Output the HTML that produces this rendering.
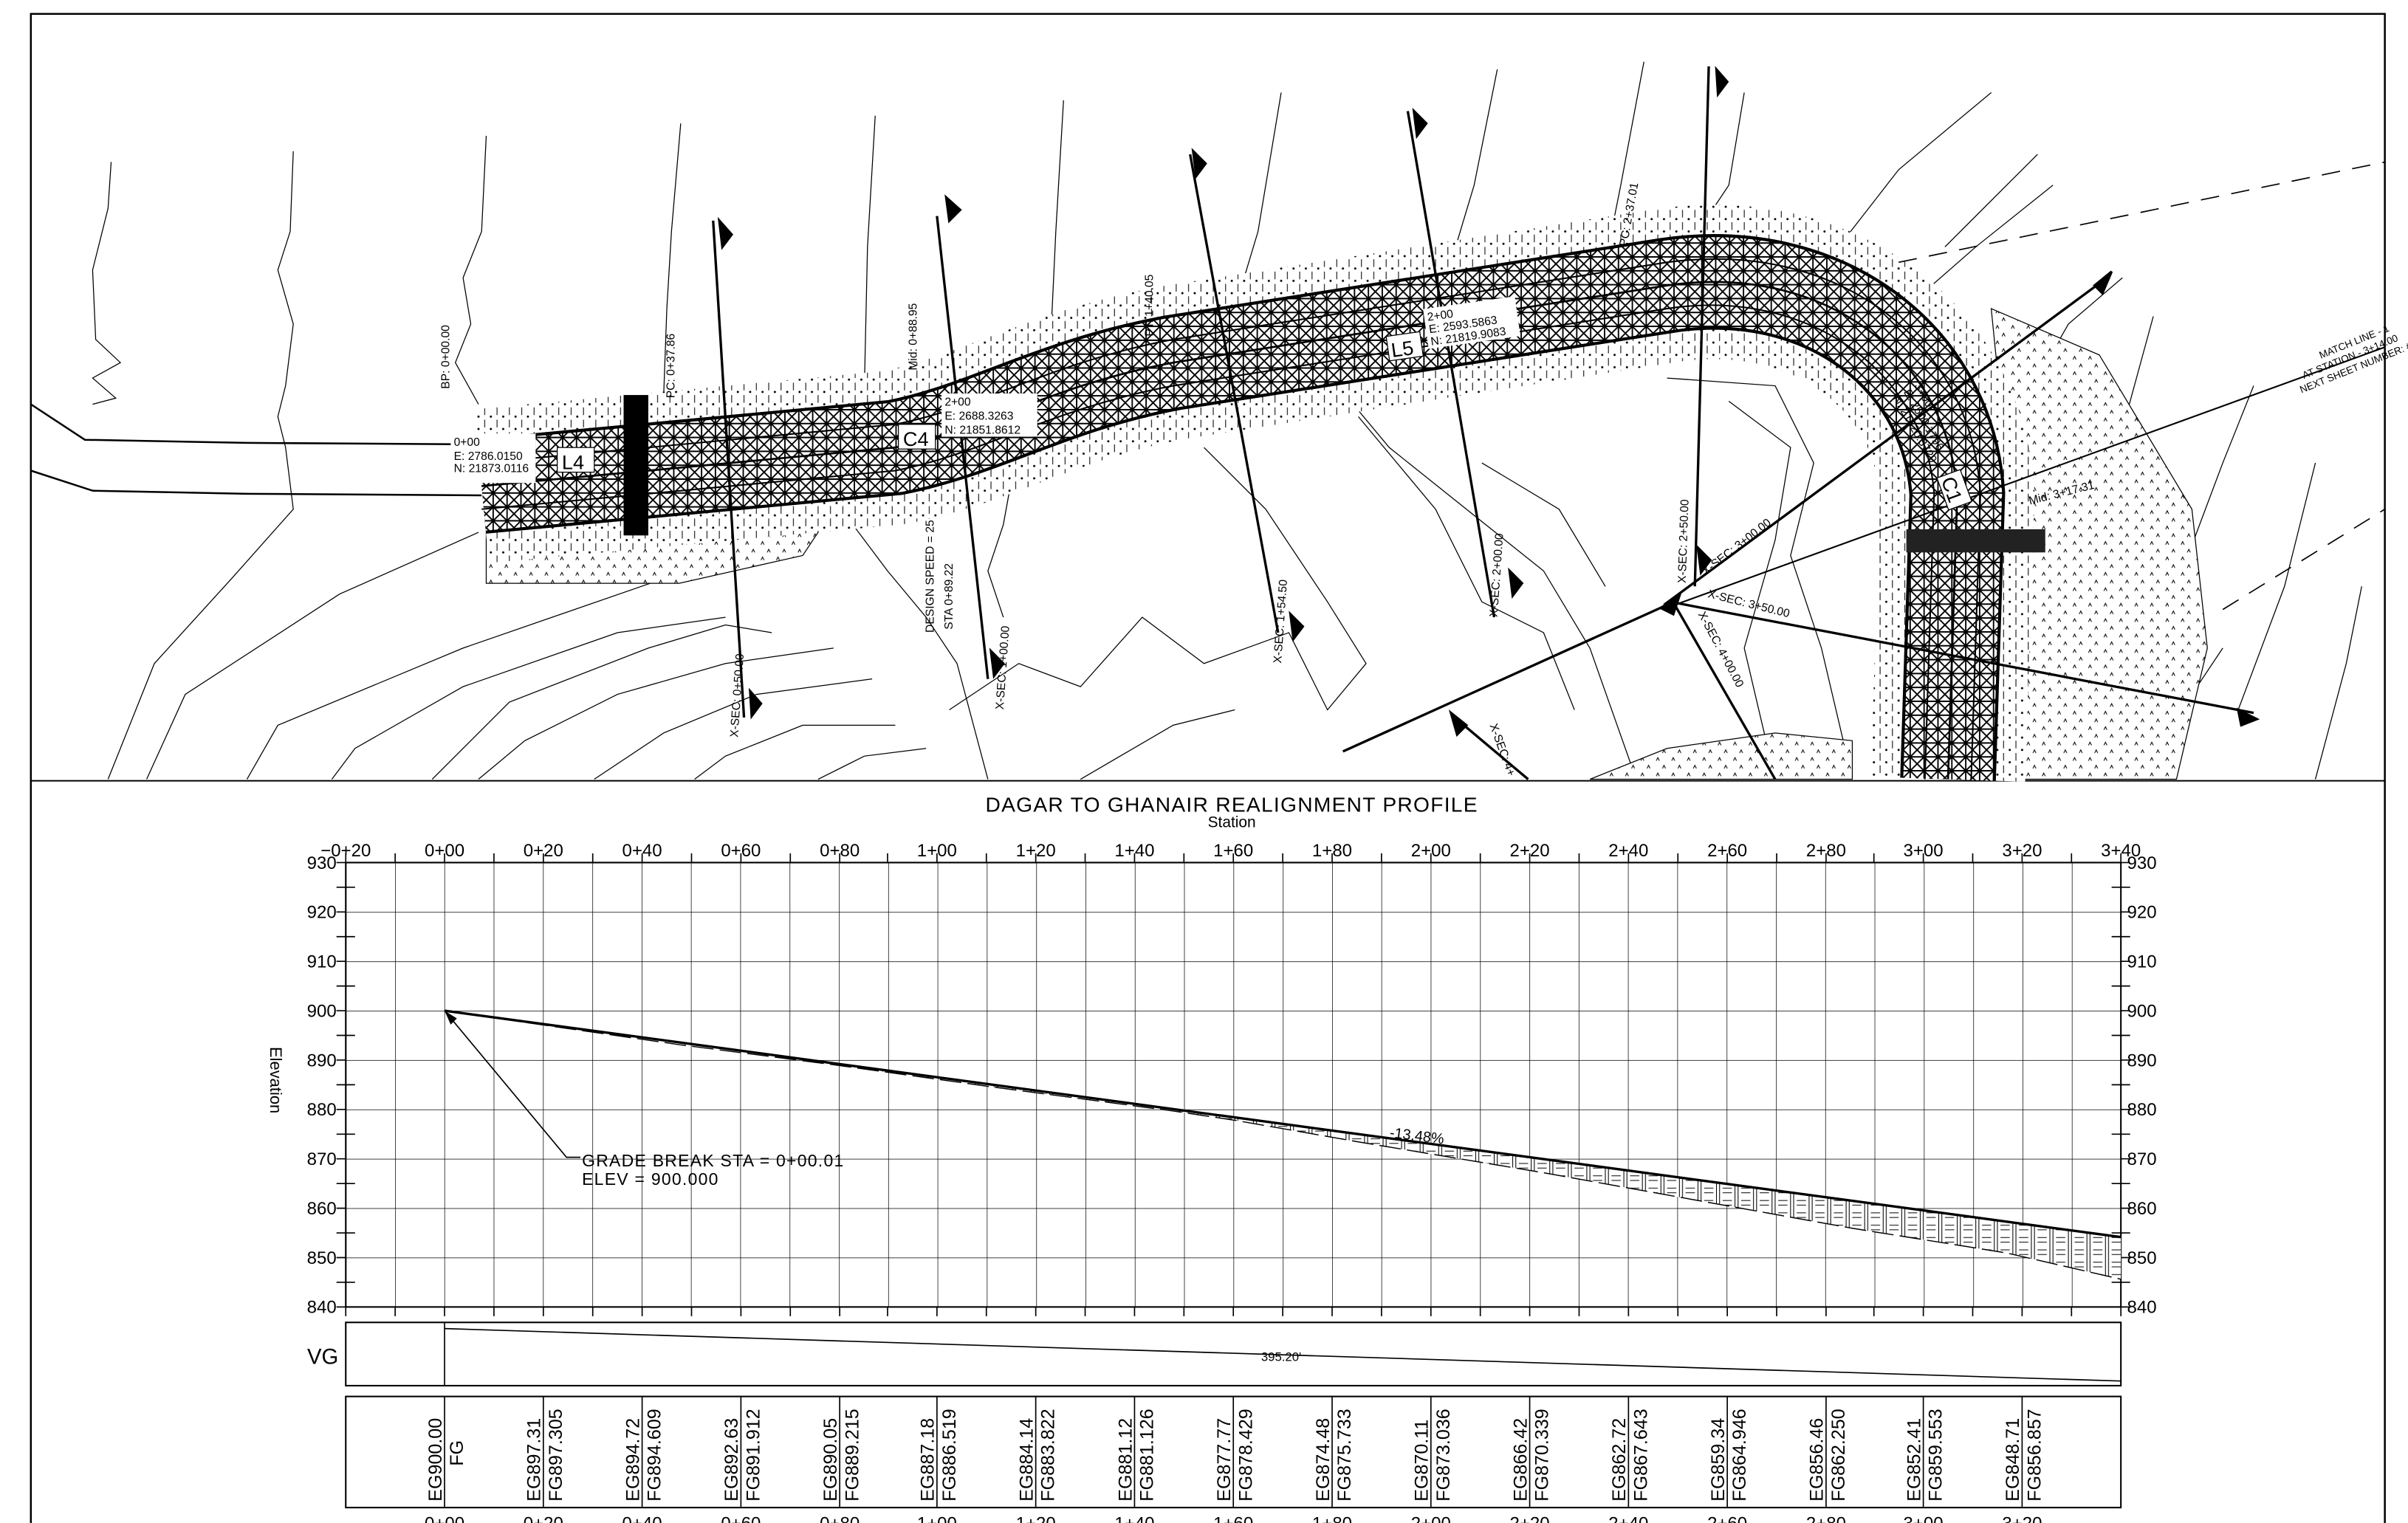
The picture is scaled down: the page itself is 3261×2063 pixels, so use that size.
<!DOCTYPE html>
<html><head><meta charset="utf-8"><style>
html,body{margin:0;padding:0;background:#fff;}
svg{display:block;}
text{font-family:"Liberation Sans",sans-serif;fill:#000;}
</style></head><body>
<svg width="3261" height="2063" viewBox="0 0 1560 987" preserveAspectRatio="none" xmlns="http://www.w3.org/2000/svg">
<defs>
<pattern id="rd" patternUnits="userSpaceOnUse" width="9" height="9">
<rect width="9" height="9" fill="#fff"/>
<path d="M0,9 L9,0 M0,0 L9,9 M4.5,0 L4.5,9 M0,4.5 L9,4.5" stroke="#000" stroke-width="0.9"/>
</pattern>
<pattern id="sl" patternUnits="userSpaceOnUse" width="8" height="8">
<rect width="8" height="8" fill="#fff"/>
<path d="M2,0 L2,5" stroke="#000" stroke-width="0.5"/>
<circle cx="6" cy="6" r="0.7" fill="#000"/>
</pattern>
<pattern id="dt" patternUnits="userSpaceOnUse" width="10" height="10">
<rect width="10" height="10" fill="#fff"/>
<path d="M3,3 l1,-2 l1,2" stroke="#000" stroke-width="0.5" fill="none"/>
<path d="M7,8 l1,-2 l1,2" stroke="#000" stroke-width="0.5" fill="none"/>
</pattern>
<pattern id="fh" patternUnits="userSpaceOnUse" width="12" height="8">
<rect width="12" height="8" fill="#fff"/>
<path d="M0,2 L6,2 M0,5 L6,5 M8,0 L8,8 M10,0 L10,8" stroke="#000" stroke-width="0.5"/>
</pattern>
<pattern id="grid" patternUnits="userSpaceOnUse" x="224" y="559" width="31.95" height="32">
<path d="M0,0 L0,32 M0,0 L31.95,0" stroke="#000" stroke-width="0.7" fill="none"/>
</pattern>
</defs>

<rect x="20" y="9" width="1525" height="990" fill="none" stroke="#000" stroke-width="1.2"/>
<line x1="20" y1="506" x2="1545" y2="506" stroke="#000" stroke-width="1"/>

<g fill="none" stroke="#000" stroke-width="0.6">
<polyline points="72,105 70,135 60,175 62,220 78,235 60,245 75,258 60,262"/>
<polyline points="190,98 188,150 180,175 190,210 185,250 180,270 185,290 190,330 150,375 100,430 70,505"/>
<polyline points="315,88 312,150 300,180 305,210 295,235 310,262"/>
<polyline points="441,80 435,150 432,200 430,255"/>
<polyline points="567,75 562,160 560,250"/>
<polyline points="689,65 684,150 680,235"/>
<polyline points="830,60 815,150 800,200 780,230"/>
<polyline points="970,45 955,120 940,170 900,200"/>
<polyline points="1065,40 1050,120 1045,145"/>
<polyline points="1130,60 1120,120 1100,150"/>
<polyline points="310,345 220,385 120,450 95,505"/>
<polyline points="430,375 300,420 180,470 160,505"/>
<polyline points="470,400 400,410 300,445 230,485 215,505"/>
<polyline points="500,410 470,405 420,420 330,455 280,505"/>
<polyline points="540,420 470,430 400,450 340,480 310,505"/>
<polyline points="565,440 490,450 430,475 385,505"/>
<polyline points="580,470 520,470 470,490 450,505"/>
<polyline points="600,485 560,490 530,505"/>
<polyline points="545,330 575,370 600,400 620,430 640,505"/>
<polyline points="660,285 650,340 640,370 650,400"/>
<polyline points="615,460 660,430 700,445 740,400 780,430 835,410 860,460 885,430 860,390 820,330 780,290"/>
<polyline points="700,505 760,470 800,460"/>
<polyline points="850,230 900,290 950,330 1000,370 1030,420 1060,505"/>
<polyline points="880,270 930,330 960,390 1000,410 1020,460"/>
<polyline points="960,300 1010,330 1040,380"/>
<polyline points="1080,245 1150,250 1175,300 1160,360 1180,420 1200,505"/>
<polyline points="1120,260 1160,290 1150,350 1130,420 1150,505"/>
<polyline points="1160,200 1230,110 1290,60"/>
<polyline points="1200,230 1280,160 1330,120"/>
<polyline points="1300,280 1340,210 1375,180"/>
<polyline points="1360,330 1380,260 1395,205"/>
<polyline points="1410,380 1440,300 1460,250"/>
<polyline points="1450,460 1480,380 1500,300"/>
<polyline points="1500,505 1520,430 1530,380"/>
<polyline points="1400,505 1420,450 1440,420"/>
<polyline points="1260,160 1300,120 1320,100"/>
</g>
<polyline points="20,262 55,285 160,287 312,288" fill="none" stroke="#000" stroke-width="1.2"/>
<polyline points="20,305 60,318 160,320 312,321" fill="none" stroke="#000" stroke-width="1.2"/>

<polygon points="315,345 540,330 520,360 440,378 315,378" fill="url(#dt)" stroke="#000" stroke-width="0.6"/>
<polygon points="1290,200 1360,230 1420,330 1430,420 1410,505 1310,505 1310,400 1300,300" fill="url(#dt)" stroke="#000" stroke-width="0.6"/>
<polygon points="1030,505 1080,485 1150,475 1200,480 1200,505" fill="url(#dt)" stroke="#000" stroke-width="0.6"/>

<path d="M312,315 L420,305 L580,290 C640,278 680,250 760,235 L1080,185 C1180,170 1262,230 1268,320 L1262,505" fill="none" stroke="url(#sl)" stroke-width="100"/>
<path d="M312,315 L420,305 L580,290 C640,278 680,250 760,235 L1080,185 C1180,170 1262,230 1268,320 L1262,505" fill="none" stroke="#000" stroke-width="62"/>
<path d="M312,315 L420,305 L580,290 C640,278 680,250 760,235 L1080,185 C1180,170 1262,230 1268,320 L1262,505" fill="none" stroke="url(#rd)" stroke-width="58"/>
<path d="M312,315 L420,305 L580,290 C640,278 680,250 760,235 L1080,185 C1180,170 1262,230 1268,320 L1262,505" fill="none" stroke="#000" stroke-width="1.3"/>
<path d="M312,300 L420,290 L580,275 C640,263 680,235 760,220 L1080,170 C1190,155 1277,220 1283,320 L1277,505" fill="none" stroke="#000" stroke-width="1"/>
<path d="M312,330 L420,320 L580,305 C640,293 680,265 760,250 L1080,200 C1170,186 1247,240 1253,320 L1247,505" fill="none" stroke="#000" stroke-width="1"/>

<rect x="404" y="256" width="16" height="91" fill="#000"/>
<rect x="1235" y="343" width="90" height="15" fill="#222"/>

<g stroke="#000" stroke-width="1.6" fill="#000">
<line x1="462" y1="143" x2="482" y2="465"/>
<polygon points="466,143 474,152 468,160"/><polygon points="486,448 493,456 487,464"/>
<line x1="607" y1="140" x2="640" y2="440"/>
<polygon points="613,128 622,136 615,143"/><polygon points="642,422 650,430 644,438"/>
<line x1="771" y1="100" x2="828" y2="410"/>
<polygon points="773,98 781,106 775,114"/><polygon points="836,398 844,406 838,414"/>
<line x1="912" y1="72" x2="968" y2="400"/>
<polygon points="916,72 924,80 918,88"/><polygon points="978,370 986,378 980,386"/>
<line x1="1107" y1="43" x2="1098" y2="380"/>
<polygon points="1112,45 1119,53 1113,61"/><polygon points="1100,355 1108,363 1102,371"/>
<line x1="1078" y1="392" x2="1365" y2="180"/>
<polygon points="1357,185 1368,176 1362,190"/>
<line x1="1082" y1="390" x2="1460" y2="462"/>
<polygon points="1450,460 1462,466 1452,470"/>
<line x1="1085" y1="392" x2="1150" y2="505"/>
<line x1="870" y1="487" x2="1080" y2="392"/>
<polygon points="940,462 950,470 944,476"/>
<line x1="946" y1="468" x2="990" y2="505"/>
<polygon points="1076,394 1088,386 1084,398"/>
</g>
<line x1="1085" y1="392" x2="1545" y2="225" stroke="#000" stroke-width="1"/>
<line x1="1230" y1="170" x2="1545" y2="105" stroke="#000" stroke-width="0.8" stroke-dasharray="12,8"/>
<line x1="1440" y1="395" x2="1545" y2="330" stroke="#000" stroke-width="0.8" stroke-dasharray="12,8"/>

<g font-size="7.5">
<text transform="translate(291,252) rotate(-90)">BP: 0+00.00</text>
<text transform="translate(437,258) rotate(-90)">PC: 0+37.86</text>
<text transform="translate(594,240) rotate(-90)">Mid: 0+88.95</text>
<text transform="translate(747,218) rotate(-90)">PT: 1+40.05</text>
<text transform="translate(1054,160) rotate(-80)">PC: 2+37.01</text>
<text transform="translate(605,410) rotate(-90)">DESIGN SPEED = 25</text>
<text transform="translate(617,408) rotate(-90)">STA 0+89.22</text>
<text transform="translate(478,478) rotate(-86)">X-SEC: 0+50.00</text>
<text transform="translate(650,460) rotate(-86)">X-SEC: 1+00.00</text>
<text transform="translate(830,430) rotate(-86)">X-SEC: 1+54.50</text>
<text transform="translate(970,400) rotate(-86)">X-SEC: 2+00.00</text>
<text transform="translate(1092,378) rotate(-88)">X-SEC: 2+50.00</text>
<text transform="translate(1105,373) rotate(-38)">X-SEC: 3+00.00</text>
<text transform="translate(1106,387) rotate(14)">X-SEC: 3+50.00</text>
<text transform="translate(1100,398) rotate(62)">X-SEC: 4+00.00</text>
<text transform="translate(965,470) rotate(70)">X-SEC: 4+</text>
<text transform="translate(1315,327) rotate(-14)">Mid: 3+17.31</text>
<rect x="292" y="281" width="55" height="32" fill="#fff"/>
<text x="294" y="289">0+00</text>
<text x="294" y="298">E: 2786.0150</text>
<text x="294" y="306">N: 21873.0116</text>
<rect x="610" y="255" width="62" height="28" fill="#fff"/>
<text x="612" y="263">2+00</text>
<text x="612" y="272">E: 2688.3263</text>
<text x="612" y="281">N: 21851.8612</text>
<g transform="translate(925,208) rotate(-8)"><rect x="-2" y="-8" width="60" height="26" fill="#fff"/>
<text x="0" y="0">2+00</text><text x="0" y="8">E: 2593.5863</text><text x="0" y="16">N: 21819.9083</text></g>
<g transform="translate(1240,250) rotate(60)"><text x="0" y="0">3+00</text><text x="0" y="8">E: 2500.1796</text><text x="0" y="16">N: 21820.3729</text></g>
<g transform="translate(1485,240) rotate(-22)" font-size="6.5"><text x="20" y="0">MATCH LINE - 1</text><text x="5" y="8">AT STATION - 3+14.00</text><text x="0" y="16">NEXT SHEET NUMBER: ###</text></g>
</g>
<g font-size="13">
<rect x="361" y="290" width="24" height="16" fill="#fff" stroke="#000" stroke-width="0.6"/><text x="364" y="304">L4</text>
<rect x="582" y="275" width="24" height="16" fill="#fff" stroke="#000" stroke-width="0.6"/><text x="585" y="289">C4</text>
<g transform="translate(898,218) rotate(-8)"><rect x="0" y="0" width="22" height="16" fill="#fff" stroke="#000" stroke-width="0.6"/><text x="2" y="14">L5</text></g>
<g transform="translate(1268,305) rotate(70)"><rect x="0" y="-2" width="22" height="16" fill="#fff" stroke="#000" stroke-width="0.6"/><text x="2" y="12">C1</text></g>
</g>

<text x="798" y="526" font-size="13.5" text-anchor="middle" letter-spacing="0.6">DAGAR TO GHANAIR REALIGNMENT PROFILE</text>
<text x="798" y="536" font-size="10" text-anchor="middle">Station</text>

<rect x="224" y="559" width="1150" height="288" fill="url(#grid)"/>
<rect x="224" y="559" width="1150" height="288" fill="none" stroke="#000" stroke-width="1"/>
<path d="M224,553 V559 M256,553 V559 M288,553 V559 M320,553 V559 M352,553 V559 M384,553 V559 M416,553 V559 M448,553 V559 M480,553 V559 M512,553 V559 M544,553 V559 M575,553 V559 M607,553 V559 M639,553 V559 M671,553 V559 M703,553 V559 M735,553 V559 M767,553 V559 M799,553 V559 M831,553 V559 M863,553 V559 M895,553 V559 M927,553 V559 M959,553 V559 M991,553 V559 M1023,553 V559 M1055,553 V559 M1087,553 V559 M1119,553 V559 M1151,553 V559 M1183,553 V559 M1214,553 V559 M1246,553 V559 M1278,553 V559 M1310,553 V559 M1342,553 V559 M1374,553 V559
M224,847 V853 M256,847 V853 M288,847 V853 M320,847 V853 M352,847 V853 M384,847 V853 M416,847 V853 M448,847 V853 M480,847 V853 M512,847 V853 M544,847 V853 M575,847 V853 M607,847 V853 M639,847 V853 M671,847 V853 M703,847 V853 M735,847 V853 M767,847 V853 M799,847 V853 M831,847 V853 M863,847 V853 M895,847 V853 M927,847 V853 M959,847 V853 M991,847 V853 M1023,847 V853 M1055,847 V853 M1087,847 V853 M1119,847 V853 M1151,847 V853 M1183,847 V853 M1214,847 V853 M1246,847 V853 M1278,847 V853 M1310,847 V853 M1342,847 V853 M1374,847 V853
M218,575 H230 M218,607 H230 M218,639 H230 M218,671 H230 M218,703 H230 M218,735 H230 M218,767 H230 M218,799 H230 M218,831 H230
M1368,575 H1380 M1368,607 H1380 M1368,639 H1380 M1368,671 H1380 M1368,703 H1380 M1368,735 H1380 M1368,767 H1380 M1368,799 H1380 M1368,831 H1380
M218,559 H224 M218,591 H224 M218,623 H224 M218,655 H224 M218,687 H224 M218,719 H224 M218,751 H224 M218,783 H224 M218,815 H224 M218,847 H224
M1374,559 H1380 M1374,591 H1380 M1374,623 H1380 M1374,655 H1380 M1374,687 H1380 M1374,719 H1380 M1374,751 H1380 M1374,783 H1380 M1374,815 H1380 M1374,847 H1380" stroke="#000" stroke-width="0.8" fill="none"/>

<g font-size="11.5" text-anchor="middle">
<text x="224" y="555">−0+20</text><text x="288" y="555">0+00</text><text x="352" y="555">0+20</text><text x="416" y="555">0+40</text><text x="480" y="555">0+60</text><text x="544" y="555">0+80</text><text x="607" y="555">1+00</text><text x="671" y="555">1+20</text><text x="735" y="555">1+40</text><text x="799" y="555">1+60</text><text x="863" y="555">1+80</text><text x="927" y="555">2+00</text><text x="991" y="555">2+20</text><text x="1055" y="555">2+40</text><text x="1119" y="555">2+60</text><text x="1183" y="555">2+80</text><text x="1246" y="555">3+00</text><text x="1310" y="555">3+20</text><text x="1374" y="555">3+40</text>
</g>
<g font-size="11.5" text-anchor="end">
<text x="218" y="563">930</text><text x="218" y="595">920</text><text x="218" y="627">910</text><text x="218" y="659">900</text><text x="218" y="691">890</text><text x="218" y="723">880</text><text x="218" y="755">870</text><text x="218" y="787">860</text><text x="218" y="819">850</text><text x="218" y="851">840</text>
</g>
<g font-size="11.5">
<text x="1378" y="563">930</text><text x="1378" y="595">920</text><text x="1378" y="627">910</text><text x="1378" y="659">900</text><text x="1378" y="691">890</text><text x="1378" y="723">880</text><text x="1378" y="755">870</text><text x="1378" y="787">860</text><text x="1378" y="819">850</text><text x="1378" y="851">840</text>
</g>
<text transform="translate(175,700) rotate(90)" font-size="10.5" text-anchor="middle">Elevation</text>

<polygon points="440,676 540,690 640,704 760,720 800,726 880,740 1000,760 1100,778 1200,796 1300,812 1374,829 1374,801.7 1300,791.7 1200,778.2 1100,764.7 1000,751.2 880,735 800,724 760,718.7 640,702.5 540,689 440,675.5" fill="url(#fh)" stroke="none"/>
<polyline points="288,655 440,677 540,690 640,704 760,720 800,726 880,740 1000,760 1100,778 1200,796 1300,812 1374,829" fill="none" stroke="#000" stroke-width="0.7" stroke-dasharray="14,4"/>
<line x1="288" y1="655" x2="1374" y2="801.7" stroke="#000" stroke-width="1.6"/>
<text x="900" y="737" font-size="9.5" transform="rotate(7 900 737)">-13.48%</text>

<polyline points="288,655 367,750 376,750" fill="none" stroke="#000" stroke-width="0.8"/>
<polygon points="288,655 296,660 292,664" fill="#000"/>
<text x="377" y="756" font-size="11" letter-spacing="0.6">GRADE BREAK STA = 0+00.01</text>
<text x="377" y="768" font-size="11" letter-spacing="0.6">ELEV =   900.000</text>

<rect x="224" y="857" width="1150" height="41" fill="none" stroke="#000" stroke-width="1"/>
<line x1="288" y1="857" x2="288" y2="898" stroke="#000" stroke-width="0.8"/>
<line x1="288" y1="861" x2="1374" y2="895" stroke="#000" stroke-width="0.8"/>
<text x="199" y="884" font-size="14">VG</text>
<text x="830" y="882" font-size="8" text-anchor="middle">395.20'</text>

<rect x="224" y="905" width="1150" height="72" fill="none" stroke="#000" stroke-width="1"/>
<path d="M288,905V977 M352,905V977 M416,905V977 M480,905V977 M544,905V977 M607,905V977 M671,905V977 M735,905V977 M799,905V977 M863,905V977 M927,905V977 M991,905V977 M1055,905V977 M1119,905V977 M1183,905V977 M1246,905V977 M1310,905V977" stroke="#000" stroke-width="0.8"/>
<g font-size="12">
<text transform="translate(286,973) rotate(-90)">EG900.00</text><text transform="translate(300,950) rotate(-90)">FG</text>
<text transform="translate(350,973) rotate(-90)">EG897.31</text><text transform="translate(364,973) rotate(-90)">FG897.305</text>
<text transform="translate(414,973) rotate(-90)">EG894.72</text><text transform="translate(428,973) rotate(-90)">FG894.609</text>
<text transform="translate(478,973) rotate(-90)">EG892.63</text><text transform="translate(492,973) rotate(-90)">FG891.912</text>
<text transform="translate(542,973) rotate(-90)">EG890.05</text><text transform="translate(556,973) rotate(-90)">FG889.215</text>
<text transform="translate(605,973) rotate(-90)">EG887.18</text><text transform="translate(619,973) rotate(-90)">FG886.519</text>
<text transform="translate(669,973) rotate(-90)">EG884.14</text><text transform="translate(683,973) rotate(-90)">FG883.822</text>
<text transform="translate(733,973) rotate(-90)">EG881.12</text><text transform="translate(747,973) rotate(-90)">FG881.126</text>
<text transform="translate(797,973) rotate(-90)">EG877.77</text><text transform="translate(811,973) rotate(-90)">FG878.429</text>
<text transform="translate(861,973) rotate(-90)">EG874.48</text><text transform="translate(875,973) rotate(-90)">FG875.733</text>
<text transform="translate(925,973) rotate(-90)">EG870.11</text><text transform="translate(939,973) rotate(-90)">FG873.036</text>
<text transform="translate(989,973) rotate(-90)">EG866.42</text><text transform="translate(1003,973) rotate(-90)">FG870.339</text>
<text transform="translate(1053,973) rotate(-90)">EG862.72</text><text transform="translate(1067,973) rotate(-90)">FG867.643</text>
<text transform="translate(1117,973) rotate(-90)">EG859.34</text><text transform="translate(1131,973) rotate(-90)">FG864.946</text>
<text transform="translate(1181,973) rotate(-90)">EG856.46</text><text transform="translate(1195,973) rotate(-90)">FG862.250</text>
<text transform="translate(1244,973) rotate(-90)">EG852.41</text><text transform="translate(1258,973) rotate(-90)">FG859.553</text>
<text transform="translate(1308,973) rotate(-90)">EG848.71</text><text transform="translate(1322,973) rotate(-90)">FG856.857</text>
</g>
<g font-size="11.5" text-anchor="middle">
<text x="288" y="991">0+00</text><text x="352" y="991">0+20</text><text x="416" y="991">0+40</text><text x="480" y="991">0+60</text><text x="544" y="991">0+80</text><text x="607" y="991">1+00</text><text x="671" y="991">1+20</text><text x="735" y="991">1+40</text><text x="799" y="991">1+60</text><text x="863" y="991">1+80</text><text x="927" y="991">2+00</text><text x="991" y="991">2+20</text><text x="1055" y="991">2+40</text><text x="1119" y="991">2+60</text><text x="1183" y="991">2+80</text><text x="1246" y="991">3+00</text><text x="1310" y="991">3+20</text>
</g>
</svg>
</body></html>
